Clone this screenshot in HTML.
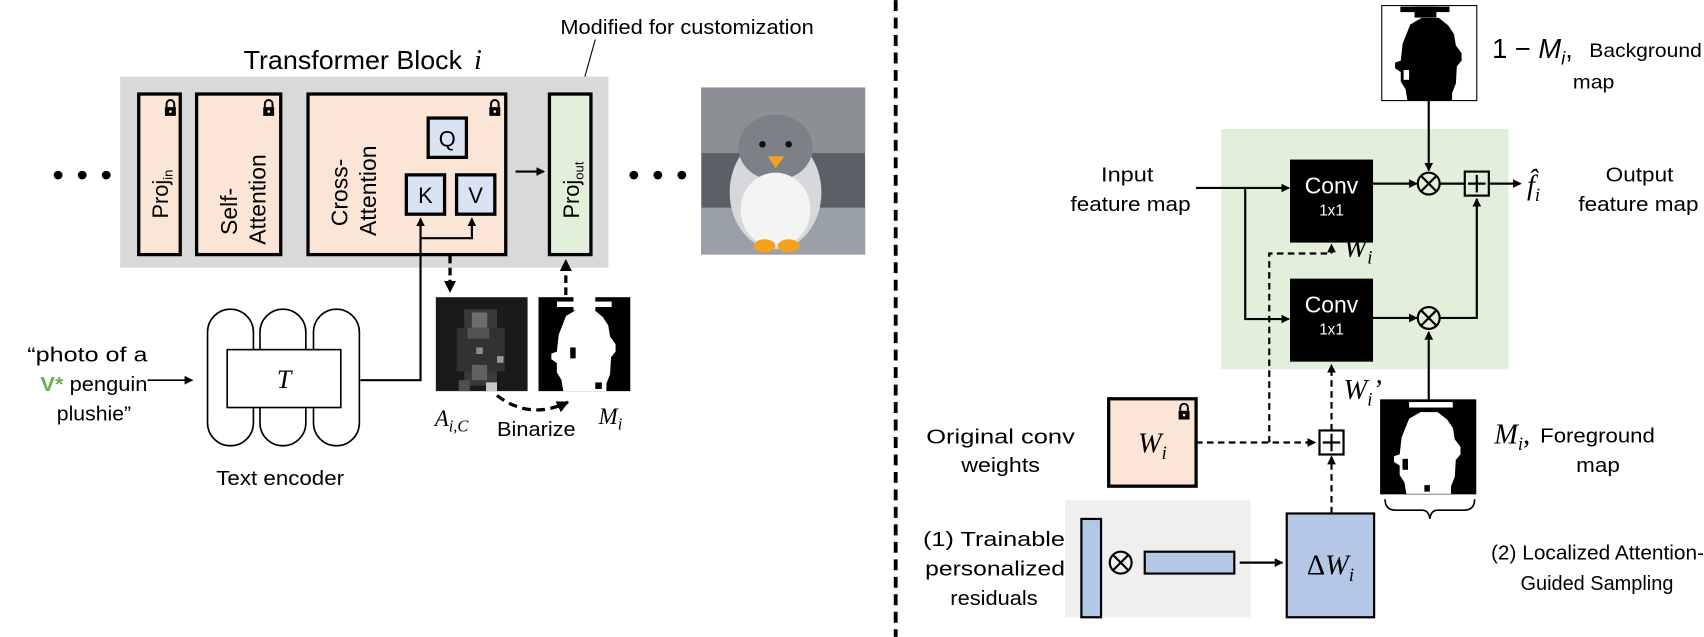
<!DOCTYPE html>
<html><head><meta charset="utf-8"><style>
html,body{margin:0;padding:0;background:#fff;}
svg{display:block;}
text{font-family:"Liberation Sans",sans-serif;}
.m{font-family:"Liberation Serif",serif;font-style:italic;}
</style></head><body>
<svg width="1704" height="637" viewBox="0 0 1560 583" xmlns="http://www.w3.org/2000/svg">
<defs>
<marker id="ah" markerWidth="8" markerHeight="8" refX="7" refY="4" orient="auto" markerUnits="userSpaceOnUse" viewBox="0 0 8 8"><path d="M0,0 L8,4 L0,8 z" fill="#000"/></marker>
<marker id="ah2" markerWidth="11" markerHeight="11" refX="10" refY="5.5" orient="auto" markerUnits="userSpaceOnUse" viewBox="0 0 11 11"><path d="M0,0 L11,5.5 L0,11 z" fill="#000"/></marker>
<g id="lock"><rect x="-5" y="-1" width="10" height="8" fill="#000"/><path d="M-3.5,-1 v-3 a3.5,3.5 0 0 1 7,0 v3" fill="none" stroke="#000" stroke-width="1.8"/><circle cx="0" cy="3" r="1.2" fill="#fff"/></g>
<polygon id="blob" points="0.30,0.20 0.42,0.13 0.60,0.13 0.70,0.21 0.76,0.30 0.78,0.42 0.84,0.50 0.84,0.58 0.79,0.64 0.78,0.82 0.74,0.92 0.74,1 0.27,1 0.25,0.88 0.20,0.80 0.20,0.70 0.14,0.66 0.14,0.60 0.20,0.58 0.22,0.40 0.26,0.30"/>
</defs>

<!-- LEFT -->
<text x="48" y="170" font-size="30">•</text><text x="70" y="170" font-size="30">•</text><text x="92" y="170" font-size="30">•</text>
<text x="575" y="170" font-size="30">•</text><text x="597" y="170" font-size="30">•</text><text x="619" y="170" font-size="30">•</text>

<text x="223" y="63" font-size="24" textLength="200" lengthAdjust="spacingAndGlyphs">Transformer Block</text>
<text x="434" y="63" class="m" font-size="26">i</text>
<text x="513" y="31" font-size="19" textLength="232" lengthAdjust="spacingAndGlyphs">Modified for customization</text>
<line x1="545" y1="36" x2="531" y2="86" stroke="#000" stroke-width="1"/>

<rect x="110" y="70" width="447" height="175" fill="#d9d9d9"/>
<rect x="127" y="86" width="38" height="147" fill="#fbe5d6" stroke="#000" stroke-width="3"/>
<rect x="180" y="86" width="77" height="147" fill="#fbe5d6" stroke="#000" stroke-width="3"/>
<rect x="282" y="86" width="181" height="147" fill="#fbe5d6" stroke="#000" stroke-width="3"/>
<rect x="503" y="86" width="38" height="147" fill="#e2efda" stroke="#000" stroke-width="3"/>
<use href="#lock" x="156" y="99"/><use href="#lock" x="246" y="99"/><use href="#lock" x="453" y="99"/>
<text transform="translate(154,200) rotate(-90)" font-size="20">Proj<tspan font-size="12" dy="4">in</tspan></text>
<text transform="translate(217,215) rotate(-90)" font-size="21">Self-</text>
<text transform="translate(243,224) rotate(-90)" font-size="21">Attention</text>
<text transform="translate(318,207) rotate(-90)" font-size="21">Cross-</text>
<text transform="translate(344,216) rotate(-90)" font-size="21">Attention</text>
<text transform="translate(530,200) rotate(-90)" font-size="20">Proj<tspan font-size="12" dy="4">out</tspan></text>
<rect x="392" y="108" width="35" height="36" fill="#dae3f3" stroke="#000" stroke-width="3"/>
<text x="409.5" y="134" font-size="20" text-anchor="middle">Q</text>
<rect x="372" y="160" width="35" height="36" fill="#dae3f3" stroke="#000" stroke-width="3"/>
<text x="389.5" y="186" font-size="20" text-anchor="middle">K</text>
<rect x="418" y="160" width="35" height="36" fill="#dae3f3" stroke="#000" stroke-width="3"/>
<text x="435.5" y="186" font-size="20" text-anchor="middle">V</text>
<line x1="472" y1="157" x2="498" y2="157" stroke="#000" stroke-width="2" marker-end="url(#ah)"/>

<!-- text encoder -->
<rect x="190" y="283" width="42" height="125" rx="21" fill="#fff" stroke="#000" stroke-width="1.5"/>
<rect x="238" y="283" width="42" height="125" rx="21" fill="#fff" stroke="#000" stroke-width="1.5"/>
<rect x="287" y="283" width="42" height="125" rx="21" fill="#fff" stroke="#000" stroke-width="1.5"/>
<rect x="208" y="320" width="104" height="53" fill="#fff" stroke="#000" stroke-width="1.5"/>
<text x="260" y="355" class="m" font-size="24" text-anchor="middle">T</text>
<text x="198" y="444" font-size="19" textLength="117" lengthAdjust="spacingAndGlyphs">Text encoder</text>
<text x="25" y="331" font-size="19" textLength="110" lengthAdjust="spacingAndGlyphs">“photo of a</text>
<text x="37" y="358" font-size="19" textLength="98" lengthAdjust="spacingAndGlyphs"><tspan fill="#70ad47" font-weight="bold">V*</tspan> penguin</text>
<text x="52" y="385" font-size="19" textLength="68" lengthAdjust="spacingAndGlyphs">plushie”</text>
<line x1="135" y1="348" x2="176" y2="348" stroke="#000" stroke-width="1.5" marker-end="url(#ah)"/>
<polyline points="330,348 385,348 385,200" fill="none" stroke="#000" stroke-width="2" marker-end="url(#ah)"/>
<polyline points="385,218 432,218 432,200" fill="none" stroke="#000" stroke-width="2" marker-end="url(#ah)"/>

<line x1="412" y1="234" x2="412" y2="267" stroke="#000" stroke-width="3" stroke-dasharray="7,4" marker-end="url(#ah2)"/>
<line x1="518" y1="270" x2="518" y2="238" stroke="#000" stroke-width="3" stroke-dasharray="7,4" marker-end="url(#ah2)"/>

<!-- attention map -->
<rect x="399" y="272" width="84" height="86" fill="#1a1a1a"/>
<g opacity="0.9">
<rect x="425" y="283" width="30" height="70" fill="#3e3e3e"/>
<rect x="418" y="300" width="44" height="40" fill="#353535"/>
<rect x="432" y="286" width="14" height="14" fill="#777"/>
<rect x="428" y="300" width="20" height="10" fill="#5a5a5a"/>
<rect x="432" y="334" width="14" height="14" fill="#6a6a6a"/>
<rect x="436" y="318" width="6" height="6" fill="#999"/>
<rect x="455" y="326" width="6" height="6" fill="#aaa"/>
<rect x="445" y="350" width="10" height="8" fill="#ddd"/>
<rect x="420" y="348" width="10" height="10" fill="#555"/>
</g>
<!-- mask M -->
<rect x="493" y="272" width="84" height="86" fill="#000"/>
<use href="#blob" transform="translate(493,272) scale(84,86)" fill="#fff"/>
<rect x="510" y="276" width="50" height="5" fill="#fff"/>
<rect x="525" y="270" width="20" height="14" fill="#fff"/>
<rect x="522" y="318" width="5" height="10" fill="#000"/>
<rect x="545" y="350" width="6" height="6" fill="#000"/>

<text x="398" y="390" class="m" font-size="21">A<tspan font-size="15" dy="5">i,C</tspan></text>
<text x="455" y="399" font-size="19" textLength="72" lengthAdjust="spacingAndGlyphs">Binarize</text>
<text x="548" y="388" class="m" font-size="21">M<tspan font-size="15" dy="5">i</tspan></text>
<path d="M455,362 Q485,385 520,368" fill="none" stroke="#000" stroke-width="3" stroke-dasharray="8,5" marker-end="url(#ah2)"/>

<!-- photo -->
<rect x="642" y="80" width="150" height="153" fill="#5b5f66"/>
<rect x="642" y="80" width="150" height="60" fill="#8c8f94"/>
<rect x="642" y="190" width="150" height="43" fill="#9aa0aa"/>
<ellipse cx="710" cy="176" rx="42" ry="52" fill="#d7d8dc"/>
<ellipse cx="710" cy="135" rx="34" ry="30" fill="#7e8088"/>
<ellipse cx="710" cy="192" rx="32" ry="34" fill="#f4f4f4"/>
<circle cx="698" cy="132" r="3" fill="#111"/><circle cx="722" cy="132" r="3" fill="#111"/>
<path d="M703,143 L718,143 L710,154 z" fill="#f5a020"/>
<ellipse cx="700" cy="225" rx="10" ry="6" fill="#f5a020"/><ellipse cx="722" cy="225" rx="10" ry="6" fill="#f5a020"/>

<!-- divider -->
<line x1="820" y1="0" x2="820" y2="583" stroke="#000" stroke-width="3.5" stroke-dasharray="10,6"/>

<!-- RIGHT -->
<rect x="1118" y="118" width="263" height="220" fill="#e2efda"/>
<!-- bg map -->
<rect x="1265" y="5" width="87" height="87" fill="#fff" stroke="#000" stroke-width="1"/>
<use href="#blob" transform="translate(1265,5) scale(87,87)" fill="#000"/>
<rect x="1282" y="6" width="45" height="5" fill="#000"/>
<rect x="1295" y="6" width="20" height="10" fill="#000"/>
<rect x="1285" y="64" width="5" height="9" fill="#fff"/>
<text x="1366" y="53" font-family="Liberation Serif" font-size="25">1 − <tspan font-style="italic">M</tspan><tspan font-size="17" dy="6" font-style="italic">i</tspan><tspan dy="-6">,</tspan></text>
<text x="1455" y="52" font-size="18" textLength="103" lengthAdjust="spacingAndGlyphs">Background</text>
<text x="1440" y="81" font-size="18" textLength="38" lengthAdjust="spacingAndGlyphs">map</text>
<line x1="1308" y1="92" x2="1308" y2="156" stroke="#000" stroke-width="2" marker-end="url(#ah)"/>

<text x="1008" y="166" font-size="19" textLength="48" lengthAdjust="spacingAndGlyphs">Input</text>
<text x="980" y="193" font-size="19" textLength="110" lengthAdjust="spacingAndGlyphs">feature map</text>
<line x1="1095" y1="172" x2="1180" y2="172" stroke="#000" stroke-width="2" marker-end="url(#ah)"/>
<polyline points="1140,172 1140,292 1180,292" fill="none" stroke="#000" stroke-width="2" marker-end="url(#ah)"/>
<rect x="1181" y="146" width="76" height="76" fill="#000"/>
<text x="1219" y="177" font-size="21" fill="#fff" text-anchor="middle">Conv</text>
<text x="1219" y="197" font-size="14" fill="#fff" text-anchor="middle">1x1</text>
<rect x="1181" y="255" width="76" height="76" fill="#000"/>
<text x="1219" y="286" font-size="21" fill="#fff" text-anchor="middle">Conv</text>
<text x="1219" y="306" font-size="14" fill="#fff" text-anchor="middle">1x1</text>

<line x1="1257" y1="168" x2="1297" y2="168" stroke="#000" stroke-width="2" marker-end="url(#ah)"/>
<circle cx="1308" cy="168" r="10" fill="none" stroke="#000" stroke-width="2"/>
<path d="M1301,161 L1315,175 M1315,161 L1301,175" stroke="#000" stroke-width="2"/>
<line x1="1318" y1="168" x2="1341" y2="168" stroke="#000" stroke-width="2"/>
<rect x="1341" y="157" width="22" height="22" fill="none" stroke="#000" stroke-width="2"/>
<path d="M1352,160 V176 M1344,168 H1360" stroke="#000" stroke-width="2"/>
<line x1="1363" y1="168" x2="1392" y2="168" stroke="#000" stroke-width="2" marker-end="url(#ah)"/>
<text x="1398" y="178" class="m" font-size="26">f̂<tspan font-size="17" dy="6">i</tspan></text>
<text x="1470" y="166" font-size="19" textLength="62" lengthAdjust="spacingAndGlyphs">Output</text>
<text x="1445" y="193" font-size="19" textLength="110" lengthAdjust="spacingAndGlyphs">feature map</text>

<line x1="1257" y1="291" x2="1297" y2="291" stroke="#000" stroke-width="2" marker-end="url(#ah)"/>
<circle cx="1308" cy="291" r="10" fill="none" stroke="#000" stroke-width="2"/>
<path d="M1301,284 L1315,298 M1315,284 L1301,298" stroke="#000" stroke-width="2"/>
<polyline points="1318,291 1352,291 1352,182" fill="none" stroke="#000" stroke-width="2" marker-end="url(#ah)"/>
<line x1="1308" y1="366" x2="1308" y2="304" stroke="#000" stroke-width="2" marker-end="url(#ah)"/>

<!-- fg map -->
<rect x="1264" y="366" width="87" height="86" fill="#000" stroke="#000" stroke-width="1"/>
<use href="#blob" transform="translate(1264,366) scale(87,86)" fill="#fff"/>
<rect x="1290" y="368" width="40" height="5" fill="#fff"/>
<rect x="1284" y="420" width="5" height="10" fill="#000"/>
<rect x="1304" y="444" width="5" height="6" fill="#000"/>
<text x="1368" y="406" class="m" font-size="26">M<tspan font-size="17" dy="6">i</tspan><tspan dy="-6" font-style="normal">,</tspan></text>
<text x="1410" y="405" font-size="19" textLength="105" lengthAdjust="spacingAndGlyphs">Foreground</text>
<text x="1443" y="432" font-size="19" textLength="40" lengthAdjust="spacingAndGlyphs">map</text>
<path d="M1268,475 q0,-10 10,-10 h24 q6,0 7,-8 q1,8 7,8 h24 q10,0 10,10" fill="none" stroke="#000" stroke-width="1.5" transform="translate(0,0) scale(1,-1) translate(0,-932)"/>
<text x="1365" y="512" font-size="19" textLength="195" lengthAdjust="spacingAndGlyphs">(2) Localized Attention-</text>
<text x="1392" y="540" font-size="19" textLength="140" lengthAdjust="spacingAndGlyphs">Guided Sampling</text>

<text x="1230" y="235" class="m" font-size="26">W<tspan font-size="17" dy="6">i</tspan></text>
<text x="1230" y="365" class="m" font-size="26">W<tspan font-size="17" dy="6">i</tspan><tspan dy="-6">’</tspan></text>

<!-- dashed -->
<polyline points="1095,405 1204,405" fill="none" stroke="#000" stroke-width="2" stroke-dasharray="6,4" marker-end="url(#ah)"/>
<polyline points="1162,405 1162,232 1219,232 1219,224" fill="none" stroke="#000" stroke-width="2" stroke-dasharray="6,4" marker-end="url(#ah)"/>
<rect x="1208" y="394" width="22" height="22" fill="#fff" stroke="#000" stroke-width="2"/>
<path d="M1219,397 V413 M1211,405 H1227" stroke="#000" stroke-width="2"/>
<line x1="1219" y1="394" x2="1219" y2="334" stroke="#000" stroke-width="2" stroke-dasharray="6,4" marker-end="url(#ah)"/>
<line x1="1219" y1="470" x2="1219" y2="418" stroke="#000" stroke-width="2" stroke-dasharray="6,4" marker-end="url(#ah)"/>

<rect x="1015" y="365" width="80" height="80" fill="#fbe5d6" stroke="#000" stroke-width="3"/>
<use href="#lock" x="1084" y="377"/>
<text x="1055" y="414" class="m" font-size="26" text-anchor="middle">W<tspan font-size="17" dy="6">i</tspan></text>
<text x="848" y="406" font-size="19" textLength="136" lengthAdjust="spacingAndGlyphs">Original conv</text>
<text x="880" y="432" font-size="19" textLength="72" lengthAdjust="spacingAndGlyphs">weights</text>

<rect x="975" y="458" width="170" height="107" fill="#efefef"/>
<rect x="990" y="475" width="18" height="90" fill="#b4c7e7" stroke="#000" stroke-width="2"/>
<circle cx="1026" cy="515" r="10" fill="none" stroke="#000" stroke-width="2"/>
<path d="M1019,508 L1033,522 M1033,508 L1019,522" stroke="#000" stroke-width="2"/>
<rect x="1048" y="505" width="82" height="20" fill="#b4c7e7" stroke="#000" stroke-width="2"/>
<line x1="1135" y1="515" x2="1174" y2="515" stroke="#000" stroke-width="2" marker-end="url(#ah)"/>
<rect x="1178" y="470" width="80" height="95" fill="#b4c7e7" stroke="#000" stroke-width="2"/>
<text x="1218" y="526" class="m" font-size="26" text-anchor="middle"><tspan font-style="normal">Δ</tspan>W<tspan font-size="17" dy="6">i</tspan></text>
<text x="845" y="500" font-size="19" textLength="130" lengthAdjust="spacingAndGlyphs">(1) Trainable</text>
<text x="847" y="527" font-size="19" textLength="128" lengthAdjust="spacingAndGlyphs">personalized</text>
<text x="870" y="554" font-size="19" textLength="80" lengthAdjust="spacingAndGlyphs">residuals</text>
</svg>
</body></html>
